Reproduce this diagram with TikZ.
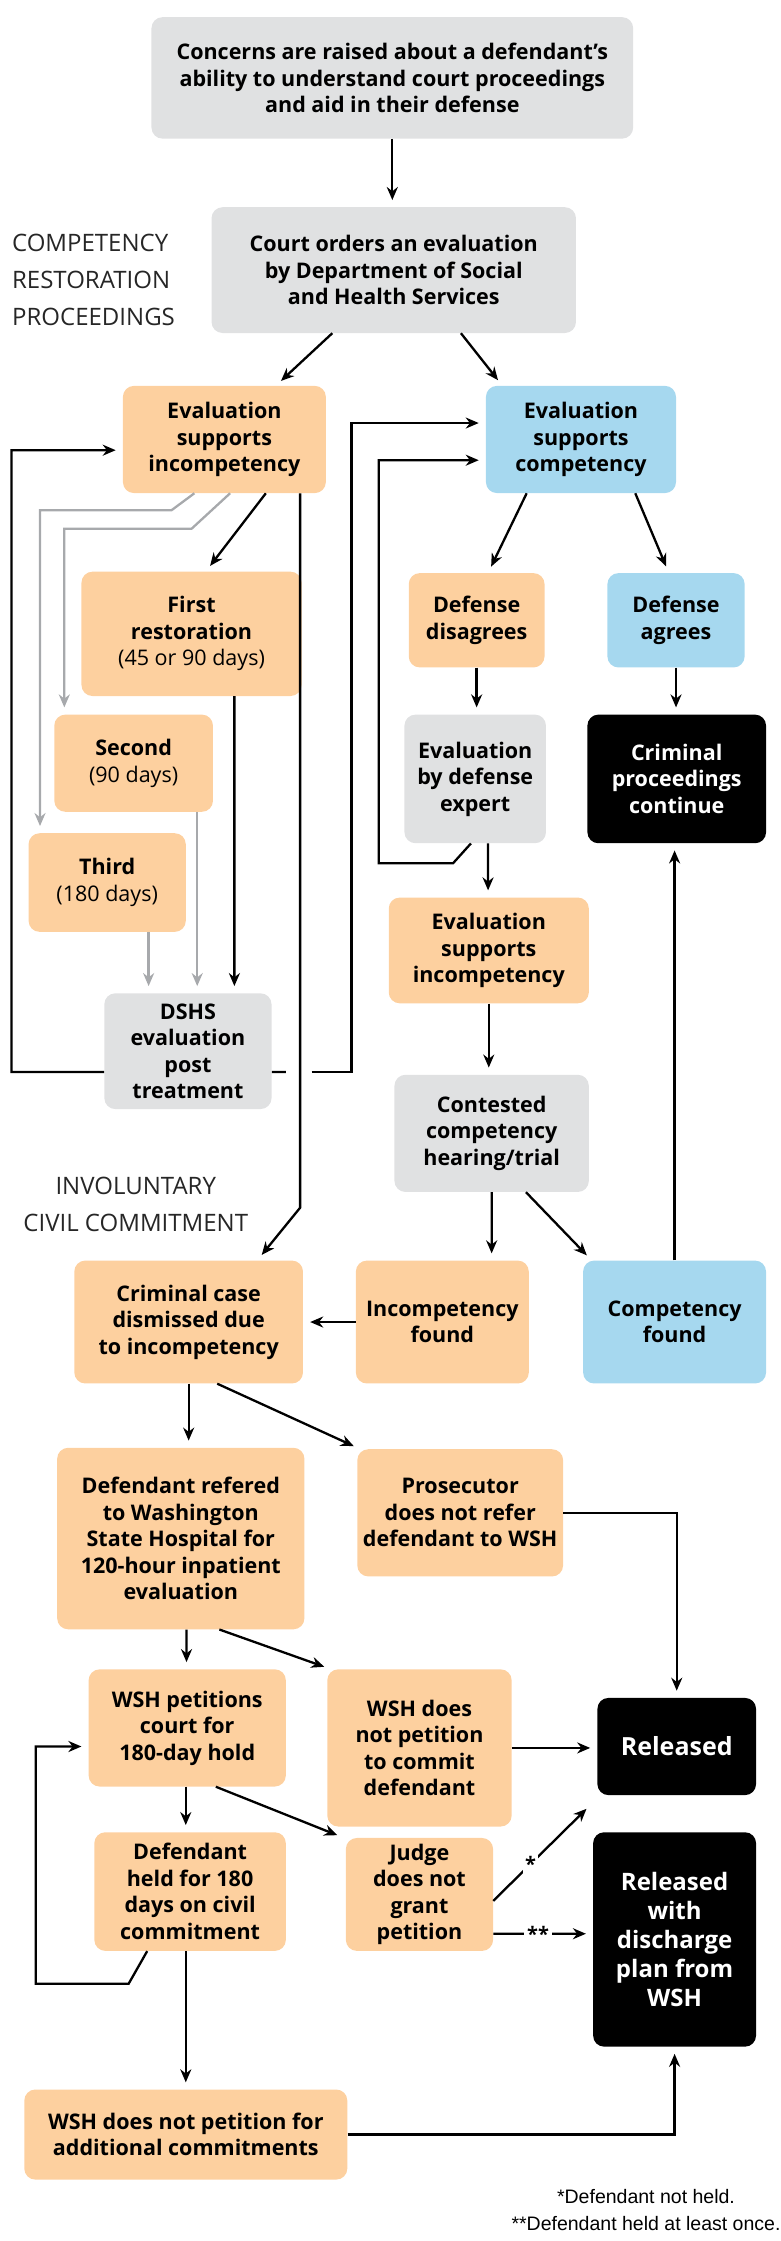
\documentclass[tikz,border=0pt]{standalone}
\usepackage{fontspec}
\setmainfont{Open Sans}
\newfontfamily\notefont{Liberation Sans}
\usetikzlibrary{calc,arrows.meta}
\definecolor{orng}{HTML}{FDD09F}
\definecolor{grey}{HTML}{E0E1E2}
\definecolor{blu}{HTML}{A6D8EF}
\definecolor{lgrey}{HTML}{A7A9AC}
\tikzset{
  box/.style={rounded corners=11pt, align=center, inner sep=0pt,
    font=\fontsize{21.5}{26.5}\selectfont\bfseries},
  sz/.style 2 args={minimum width={#1*1.4286pt}, minimum height={#2*1.4286pt}},
  arr/.style={line width=2.3pt, -{Stealth[length=13pt,width=11pt]}, shorten >=7pt},
  garr/.style={arr, draw=lgrey},
  ln/.style={line width=2.3pt},
}
\begin{document}
\begin{tikzpicture}[x=1.4286pt,y=-1.4286pt]
\useasboundingbox (0,0) rectangle (546,1568);
% boxes
\node[box,fill=grey,sz={337}{85}] (top) at (274.5,54.5) {Concerns are raised about a defendant's\\ability to understand court proceedings\\and aid in their defense};
\node[box,fill=grey,sz={255}{88}] (court) at (275.5,189) {Court orders an evaluation\\by Department of Social\\and Health Services};
\node[box,fill=orng,sz={142}{75}] (evalInc) at (157,307.5) {Evaluation\\supports\\incompetency};
\node[box,fill=blu,sz={133}{75}] (evalComp) at (406.5,307.5) {Evaluation\\supports\\competency};
\node[box,fill=orng,sz={154}{87}] (first) at (134,443.5) {First\\restoration\\\mdseries(45 or 90 days)};
\node[box,fill=orng,sz={111}{68}] (second) at (93.5,534) {Second\\\mdseries(90 days)};
\node[box,fill=orng,sz={110}{69}] (third) at (75,617.5) {Third\\\mdseries(180 days)};
\node[box,fill=grey,sz={117}{81}] (dshs) at (131.5,735.5) {DSHS\\evaluation\\post\\treatment};
\node[box,fill=orng,sz={95}{66}] (defDis) at (333.5,434) {Defense\\disagrees};
\node[box,fill=blu,sz={96}{66}] (defAgr) at (473,434) {Defense\\agrees};
\node[box,fill=grey,sz={99}{90}] (evalDef) at (332.5,545) {Evaluation\\by defense\\expert};
\node[box,fill=black,text=white,sz={125}{90}] (crimCont) at (473.5,545) {Criminal\\proceedings\\continue};
\node[box,fill=orng,sz={140}{74}] (evalInc2) at (342,665) {Evaluation\\supports\\incompetency};
\node[box,fill=grey,sz={136}{82}] (contested) at (344,793) {Contested\\competency\\hearing/trial};
\node[box,fill=orng,sz={121}{86}] (incFound) at (309.5,925) {Incompetency\\found};
\node[box,fill=blu,sz={128}{86}] (compFound) at (472,925) {Competency\\found};
\node[box,fill=orng,sz={160}{86}] (dismissed) at (132,925) {Criminal case\\dismissed due\\to incompetency};
\node[box,fill=orng,sz={173}{127}] (defRef) at (126.5,1076.5) {Defendant refered\\to Washington\\State Hospital for\\120-hour inpatient\\evaluation};
\node[box,fill=orng,sz={144}{89}] (prosec) at (322,1058.5) {Prosecutor\\does not refer\\defendant to WSH};
\node[box,fill=orng,sz={138}{82}] (wshPet) at (131,1209) {WSH petitions\\court for\\180-day hold};
\node[box,fill=orng,sz={129}{110}] (wshNot) at (293.5,1223) {WSH does\\not petition\\to commit\\defendant};
\node[box,fill=black,text=white,sz={111}{68},font=\fontsize{25}{30}\selectfont\bfseries] (released) at (473.5,1222) {Released};
\node[box,fill=orng,sz={134}{83}] (held) at (133,1323.5) {Defendant\\held for 180\\days on civil\\commitment};
\node[box,fill=orng,sz={103}{79}] (judge) at (293.5,1325.5) {Judge\\does not\\grant\\petition};
\node[box,fill=black,text=white,sz={114}{150},font=\fontsize{24}{29}\selectfont\bfseries] (relPlan) at (472,1357) {Released\\with\\discharge\\plan from\\WSH};
\node[box,fill=orng,sz={226}{63}] (wshNoAdd) at (130,1493.5) {WSH does not petition for\\additional commitments};
% labels
\node[align=left,anchor=west,font=\fontsize{24}{37}\selectfont,text=black!85] (lblRest) at (6,196) {COMPETENCY\\RESTORATION\\PROCEEDINGS};
\node[align=center,font=\fontsize{24}{37}\selectfont,text=black!85] (lblCivil) at (95,843) {INVOLUNTARY\\CIVIL COMMITMENT};
\node[align=center,font=\notefont\fontsize{19.5}{27}\selectfont] (notes) at (452,1546) {*Defendant not held.\\ **Defendant held at least once.};
% connectors
\draw[arr] (top.south) -- (top.south |- court.north);
\draw[arr] ($(court.south)+(-43,0)$) -- ($(evalInc.north)+(36,0)$);
\draw[arr] ($(court.south)+(47,0)$) -- ($(evalComp.north)+(-55,0)$);
\draw[arr] ($(evalInc.south)+(29,0)$) -- ($(first.north)+(10,0)$);
\draw[garr] ($(evalInc.south)+(-21,0)$) -- (120,357) -- (28,357) -- ($(third.north)+(-47,0)$);
\draw[garr] ($(evalInc.south)+(4,0)$) -- (134,370) -- (45,370) -- ($(second.north)+(-48.5,0)$);
\draw[garr] ($(second.south)+(44.5,0)$) -- ($(dshs.north)+(6.5,0)$);
\draw[garr] ($(third.south)+(29,0)$) -- ($(dshs.north)+(-27.5,0)$);
\draw[arr] ($(first.south)+(30,0)$) -- ($(dshs.north)+(32.5,0)$);
\draw[arr] ($(dshs.west)+(0,14.5)$) -- (8,750) -- (8,315) -- ($(evalInc.west)+(0,7.5)$);
\draw[ln] ($(dshs.east)+(0,14.5)$) -- (200,750);
\draw[arr] (218,750) -- (246,750) -- (246,296) -- ($(evalComp.west)+(0,-11.5)$);
\draw[arr] ($(evalInc.south)+(53,0)$) -- (210,845) -- ($(dismissed.north)+(48,0)$);
\draw[arr] ($(evalComp.south)+(-38,0)$) -- ($(defDis.north)+(8,0)$);
\draw[arr] ($(evalComp.south)+(38,0)$) -- ($(defAgr.north)+(-5,0)$);
\draw[arr] (defDis.south) -- (defDis.south |- evalDef.north);
\draw[arr] (defAgr.south) -- (defAgr.south |- crimCont.north);
\draw[arr] ($(evalDef.south)+(-3,0)$) -- (317,604) -- (265,604) -- (265,322) -- ($(evalComp.west)+(0,14.5)$);
\draw[arr] ($(evalDef.south)+(9,0)$) -- ($(evalInc2.north)+(-0.5,0)$);
\draw[arr] (evalInc2.south) -- (evalInc2.south |- contested.north);
\draw[arr] (contested.south) -- ($(incFound.north)+(34.5,0)$);
\draw[arr] ($(contested.south)+(24,0)$) -- ($(compFound.north)+(-58,0)$);
\draw[arr] (compFound.north) -- (compFound.north |- crimCont.south);
\draw[arr] (incFound.west) -- (dismissed.east);
\draw[arr] (dismissed.south) -- (dismissed.south |- defRef.north);
\draw[arr] ($(dismissed.south)+(20,0)$) -- ($(prosec.north)+(-70,0)$);
\draw[arr] (prosec.east) -- (released.north |- prosec.east) -- (released.north);
\draw[arr] ($(defRef.south)+(4,0)$) -- ($(wshPet.north)+(-0.5,0)$);
\draw[arr] ($(defRef.south)+(27,0)$) -- ($(wshNot.north)+(-62,0)$);
\draw[arr] (wshNot.east) -- (released.west |- wshNot.east);
\draw[arr] ($(wshPet.south)+(-1,0)$) -- ($(held.north)+(-3,0)$);
\draw[arr] ($(wshPet.south)+(20,0)$) -- ($(judge.north)+(-53,0)$);
\draw[arr] ($(held.south)+(-30,0)$) -- (90,1388) -- (25,1388) -- (25,1222) -- ($(wshPet.west)+(0,13)$);
\draw[arr] ($(held.south)+(-3,0)$) -- (wshNoAdd.north);
\draw[arr] ($(judge.east)+(0,4.5)$) -- node[pos=0.38,fill=white,inner sep=2pt,font=\fontsize{20}{20}\selectfont\bfseries] {*} ($(released.south west)+(-4,6)$);
\draw[arr] ($(judge.east)+(0,27.5)$) -- node[pos=0.45,fill=white,inner sep=3pt,font=\fontsize{20}{20}\selectfont\bfseries] {**} ($(relPlan.west)+(0,-4)$);
\draw[arr] (wshNoAdd.east) -- (relPlan.south |- wshNoAdd.east) -- (relPlan.south);
\end{tikzpicture}
\end{document}
